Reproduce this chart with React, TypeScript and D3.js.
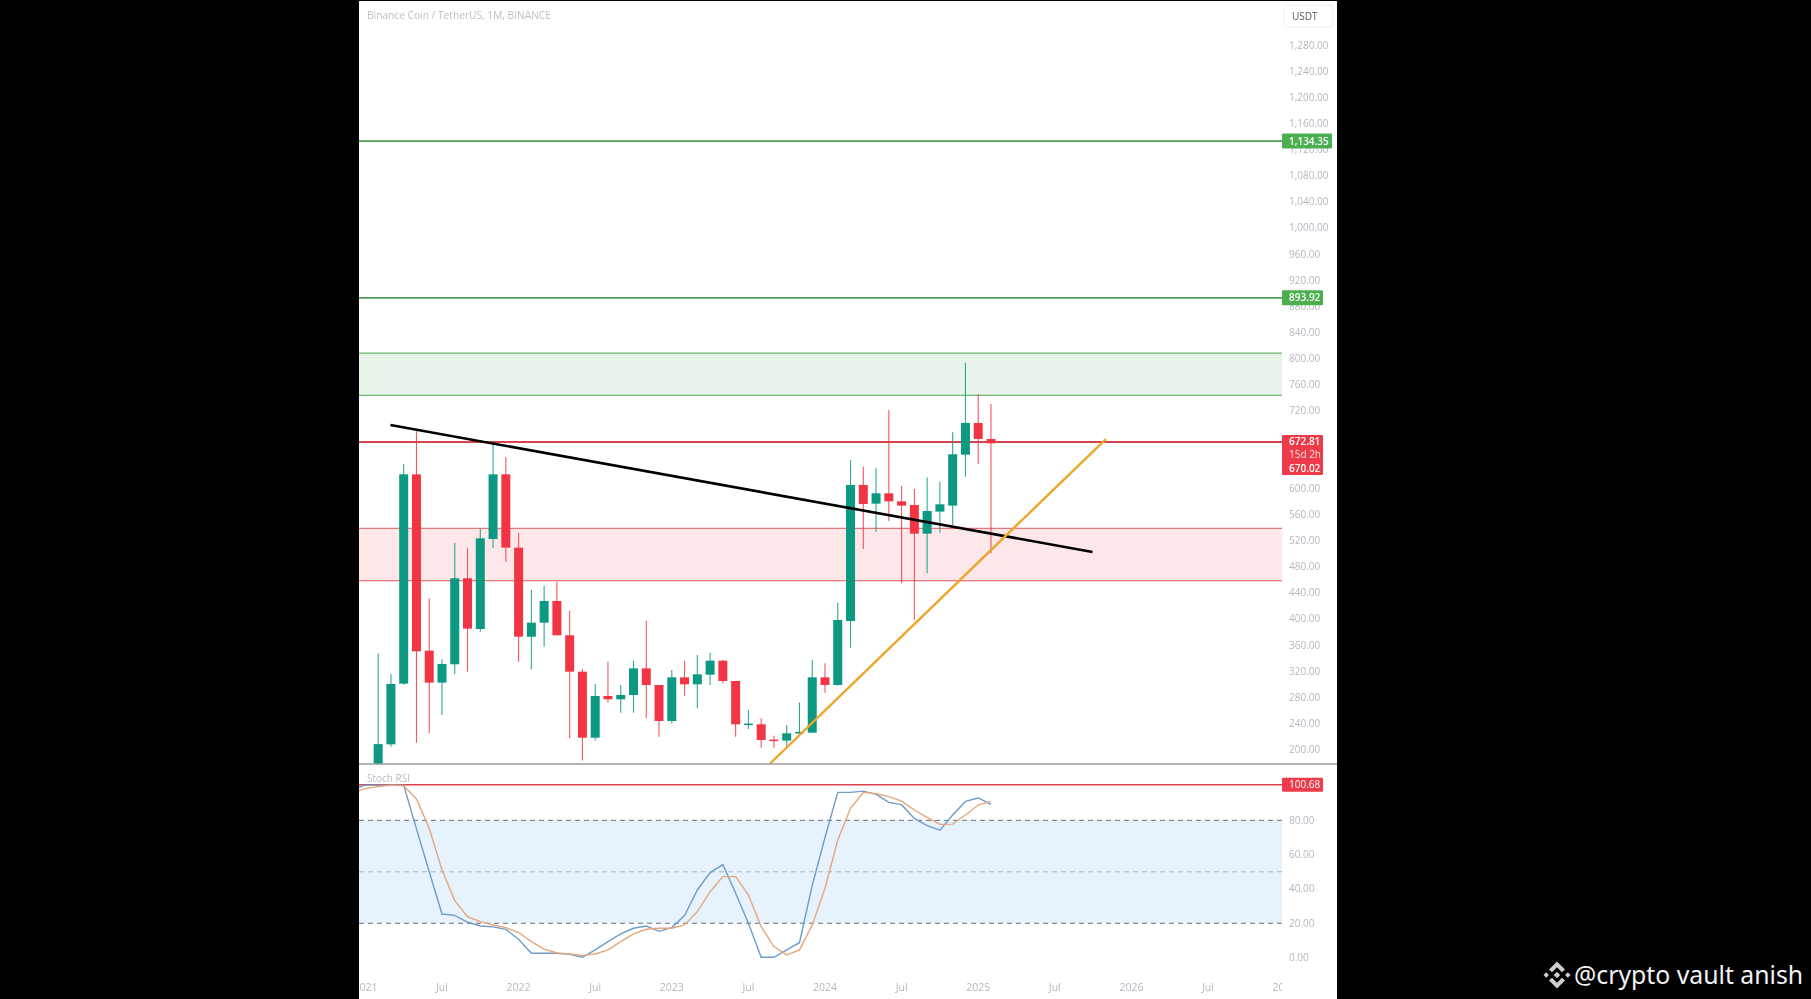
import React from "react";
import { scaleLinear, line as d3line, format as d3format } from "d3";

// month index 0 = Jan 2021; the first entry of the candle arrays is Feb 2021 (index 1)
const startIndex = 1;
const opens = [40, 208.7, 301.8, 623, 352.5, 303.4, 331.5, 463.5, 385.7, 523.8, 623, 510.5, 373.9, 395.4, 428.7, 376, 320.2, 218.9, 282.9, 277.8, 284.4, 325.3, 299.8, 244.5, 311.5, 300.8, 315.6, 337.1, 305.9, 239.4, 239.4, 215.9, 214.4, 225.6, 226.6, 311.5, 299.8, 398, 606.7, 578, 593.9, 581.6, 576, 532, 565.8, 575, 653.2, 701.8, 677.3];
const closes = [209, 301.3, 623, 351.4, 303.4, 332, 463.5, 386.2, 524.8, 623, 510.5, 373.9, 395.4, 428.7, 376, 320.2, 218.9, 282.9, 277.8, 284.4, 325.3, 299.8, 244.5, 311.5, 300.8, 316.1, 337.1, 305.9, 239.4, 240.5, 215.4, 214.4, 225.6, 227.7, 311.5, 299.8, 399.5, 606.7, 577.5, 593.9, 581.6, 575, 532, 566.8, 577, 653.8, 701.8, 677.3, 670.6];
const highs = [348, 316.7, 638.9, 692, 432.8, 339.2, 518.2, 509.5, 539.7, 670.6, 649.1, 533.5, 445.6, 451.7, 458.3, 413.8, 323.8, 301.3, 335.6, 299.8, 337.1, 398.5, 299.8, 322.8, 337.1, 345.8, 349.4, 338.1, 305.9, 261.4, 248.6, 222, 238.4, 272.7, 338.1, 333, 426.1, 645, 634.8, 632.3, 721.8, 605.2, 600.5, 618, 611.8, 687.5, 794.4, 745.8, 731];
const lows = [38, 205, 300, 211.3, 225.6, 253.7, 316.7, 320.2, 381.6, 509.5, 489, 335.6, 323.8, 358.6, 376, 217.9, 183.7, 214.4, 272.7, 257.3, 257.3, 248.6, 220.5, 241, 283.4, 264, 299.8, 302.3, 220.5, 232.3, 203.6, 203.6, 202.6, 223, 226, 288, 299, 357, 508.5, 535, 551.5, 455.8, 399.5, 471.2, 533.5, 545.3, 619.5, 638.9, 501.8];

// Stoch RSI, first entry is Dec 2020 (index -1)
const stochStart = -1;
const stochK = [98, 100.5, 100.5, 100.5, 100.5, 75, 50, 25.4, 24.6, 20.6, 18.4, 17.9, 16.5, 10.7, 2.5, 2.5, 2.5, 1.9, 0.2, 4.5, 9.3, 13.8, 17.1, 18.4, 15.3, 17.5, 24.5, 39.4, 49.5, 54.2, 37.5, 20, 0.2, 0.2, 4.5, 8.7, 42, 70, 96.3, 96.3, 97, 95.1, 90.4, 89.1, 81.1, 76.9, 74.3, 83.1, 91, 93, 89.3];
const stochD = [95.7, 98.6, 99.6, 100.5, 100.1, 92.4, 75.3, 51, 33.2, 23.9, 21, 19, 17.5, 14.6, 9.3, 4.9, 2.7, 2.1, 1.3, 2.1, 4.5, 9.3, 13.8, 16.5, 17.1, 17.1, 19, 26.8, 38.4, 47.2, 47.2, 36.5, 18, 6.4, 1.6, 4.5, 19, 40.4, 68.5, 87, 96.3, 95.5, 93.8, 91.2, 86, 81.7, 77.6, 77.8, 83.1, 88.9, 91];

// 640 and 680 sit behind the red price label in the reference and do not show
const priceTicks = [200, 240, 280, 320, 360, 400, 440, 480, 520, 560, 600, 720, 760, 800, 840, 880, 920, 960, 1000, 1040, 1080, 1120, 1160, 1200, 1240, 1280];
const stochTicks = [0, 20, 40, 60, 80];
const timeTickIndex = [0, 6, 12, 18, 24, 30, 36, 42, 48, 54, 60, 66, 72];
const timeTickLabels = ["2021", "Jul", "2022", "Jul", "2023", "Jul", "2024", "Jul", "2025", "Jul", "2026", "Jul", "2027"];

const greenZone = [744.3, 809];
const redZone = [459.8, 540.2];
const resistanceLevels = [1134.35, 893.92];
const lastPrice = 672.81;
const closePrice = 670.02;
const stochLevel = 100.68;
const blackTrend = [[1.96, 698.7], [56.95, 503.9]];
const orangeTrend = [[31.7, 179.3], [58.0, 677.2]];

const UP = "#089981";
const DOWN = "#F23645";
const AXIS = "#b4b7bf";
const FONT = "'Open Sans', sans-serif";

const panelL = 359, panelR = 1337, plotR = 1282, sepY = 764;

const x = scaleLinear().domain([0, 12]).range([365.4, 518.6]);
const y = scaleLinear().domain([800, 200]).range([359, 750]);
const s = scaleLinear().domain([0, 80]).range([957.6, 820.3]);
const priceFmt = d3format(",.2f");

export default function App() {
  const kLine = d3line<number>().x((_, i) => x(stochStart + i)).y((v) => s(v));
  const dLine = d3line<number>().x((_, i) => x(stochStart + i)).y((v) => s(v));
  const trend = d3line<number[]>().x((p) => x(p[0])).y((p) => y(p[1]));
  const bodyW = 9;
  return (
    <svg width={1811} height={999} viewBox="0 0 1811 999" style={{ position: "fixed", left: 0, top: 0, background: "#000", display: "block" }}>
      <defs>
        <clipPath id="mainClip"><rect x={panelL} y={0} width={plotR - panelL} height={sepY} /></clipPath>
        <clipPath id="stochClip"><rect x={panelL} y={sepY} width={plotR - panelL} height={999 - sepY} /></clipPath>
        <filter id="soft" x="0" y="0" width="100%" height="100%"><feGaussianBlur stdDeviation="0.5" /></filter>
      </defs>
      <rect x={0} y={0} width={1811} height={999} fill="#000" />
      <g filter="url(#soft)">
        <rect x={panelL} y={1} width={panelR - panelL} height={998} fill="#fff" />
        <g clipPath="url(#mainClip)">
          <rect x={panelL} y={y(greenZone[1])} width={plotR - panelL} height={y(greenZone[0]) - y(greenZone[1])} fill="#e8f4e9" />
          {greenZone.map((v) => <line key={v} x1={panelL} x2={plotR} y1={y(v)} y2={y(v)} stroke="#6db572" strokeWidth={1.2} />)}
          <rect x={panelL} y={y(redZone[1])} width={plotR - panelL} height={y(redZone[0]) - y(redZone[1])} fill="#fde7e9" />
          {redZone.map((v) => <line key={v} x1={panelL} x2={plotR} y1={y(v)} y2={y(v)} stroke="#e9747f" strokeWidth={1.2} />)}
          {resistanceLevels.map((v) => <line key={v} x1={panelL} x2={plotR} y1={y(v)} y2={y(v)} stroke="#4c9f52" strokeWidth={1.8} />)}
          <line x1={panelL} x2={plotR} y1={y(lastPrice)} y2={y(lastPrice)} stroke="#d9434f" strokeWidth={2} />
          {opens.map((o, i) => {
            const c = closes[i];
            const color = c >= o ? UP : DOWN;
            const cx = x(startIndex + i);
            const top = y(Math.max(o, c));
            const bot = y(Math.min(o, c));
            return (
              <g key={i}>
                <line x1={cx} x2={cx} y1={y(highs[i])} y2={y(lows[i])} stroke={color} strokeWidth={1.1} strokeOpacity={0.85} />
                <rect x={cx - bodyW / 2} y={top} width={bodyW} height={Math.max(bot - top, 1.5)} fill={color} />
              </g>
            );
          })}
          <path d={trend(blackTrend) ?? ""} fill="none" stroke="#000" strokeWidth={2.6} />
          <path d={trend(orangeTrend) ?? ""} fill="none" stroke="#EFA52B" strokeWidth={2.4} />
        </g>
        <line x1={panelL} x2={panelR} y1={sepY} y2={sepY} stroke="#9a9a9a" strokeWidth={1.4} />

        <rect x={panelL} y={s(80)} width={plotR - panelL} height={s(20) - s(80)} fill="#e6f3fd" />
        {[80, 50, 20].map((v) => (
          <line key={v} x1={panelL} x2={plotR} y1={s(v)} y2={s(v)} stroke={v === 50 ? "#a9b4c4" : "#6a6d73"} strokeWidth={1} strokeDasharray="5 4" />
        ))}
        <line x1={panelL} x2={plotR} y1={s(stochLevel)} y2={s(stochLevel)} stroke="#d9434f" strokeWidth={1.6} />
        <g clipPath="url(#stochClip)">
          <path d={kLine(stochK) ?? ""} fill="none" stroke="#6f9bc9" strokeWidth={1.4} />
          <path d={dLine(stochD) ?? ""} fill="none" stroke="#e5a67c" strokeWidth={1.4} />
          {timeTickIndex.map((t, i) => (
            <text key={i} x={x(t)} y={991} textAnchor="middle" fontFamily={FONT} fontSize={10.5} fill={AXIS}>{timeTickLabels[i]}</text>
          ))}
        </g>

        <text x={367} y={19} fontFamily={FONT} fontSize={10.2} fontWeight={500} fill="#bcbfc7">Binance Coin / TetherUS, 1M, BINANCE</text>
        <text x={367} y={782} fontFamily={FONT} fontSize={10} fill="#b8bbc3">Stoch RSI</text>

        {priceTicks.map((p) => (
          <text key={p} x={1289} y={y(p) + 2.8} fontFamily={FONT} fontSize={10} fill={AXIS}>{priceFmt(p)}</text>
        ))}
        {stochTicks.map((v) => (
          <text key={v} x={1289} y={s(v) + 3.3} fontFamily={FONT} fontSize={10} fill={AXIS}>{priceFmt(v)}</text>
        ))}

        <rect x={1284} y={5} width={49} height={22} rx={3} fill="#fff" stroke="#eeeeee" />
        <text x={1292} y={20} fontFamily={FONT} fontSize={10} fill="#55585f">USDT</text>

        {resistanceLevels.map((v) => {
          const label = priceFmt(v);
          const w = v > 1000 ? 50 : 41;
          return (
            <g key={v}>
              <rect x={1282} y={y(v) - 7.5} width={w} height={15} rx={1} fill="#4caf50" />
              <text x={1289} y={y(v) + 3.5} fontFamily={FONT} fontSize={10} fontWeight={600} fill="#fff">{label}</text>
            </g>
          );
        })}
        <rect x={1282} y={435} width={41} height={40} rx={1} fill="#ee3a49" />
        <text x={1289} y={y(lastPrice) + 3.5} fontFamily={FONT} fontSize={10} fontWeight={600} fill="#fff">{priceFmt(lastPrice)}</text>
        <text x={1289} y={458} fontFamily={FONT} fontSize={10} fill="#fde0e2">15d 2h</text>
        <text x={1289} y={471.5} fontFamily={FONT} fontSize={10} fontWeight={600} fill="#fff">{priceFmt(closePrice)}</text>
        <rect x={1282} y={s(stochLevel) - 7} width={41} height={14} rx={1} fill="#ee3a49" />
        <text x={1289} y={s(stochLevel) + 3.5} fontFamily={FONT} fontSize={10} fontWeight={500} fill="#fff">{priceFmt(stochLevel)}</text>
      </g>

      <g transform="translate(1557,975)" fill="#cfcfcf">
        <path d="M0,-13.5 L8,-5.5 L5,-2.7 L0,-7.7 L-5,-2.7 L-8,-5.5 Z" />
        <path d="M0,13.5 L8,5.5 L5,2.7 L0,7.7 L-5,2.7 L-8,5.5 Z" />
        <path d="M0,-3.2 L3.2,0 L0,3.2 L-3.2,0 Z" />
        <path d="M-10.8,-2.7 L-8.1,0 L-10.8,2.7 L-13.5,0 Z" />
        <path d="M10.8,-2.7 L13.5,0 L10.8,2.7 L8.1,0 Z" />
      </g>
      <text x={1574} y={984} fontFamily="'Noto Sans', sans-serif" fontSize={24.8} fill="#f2f2f2">@crypto vault anish</text>
    </svg>
  );
}
